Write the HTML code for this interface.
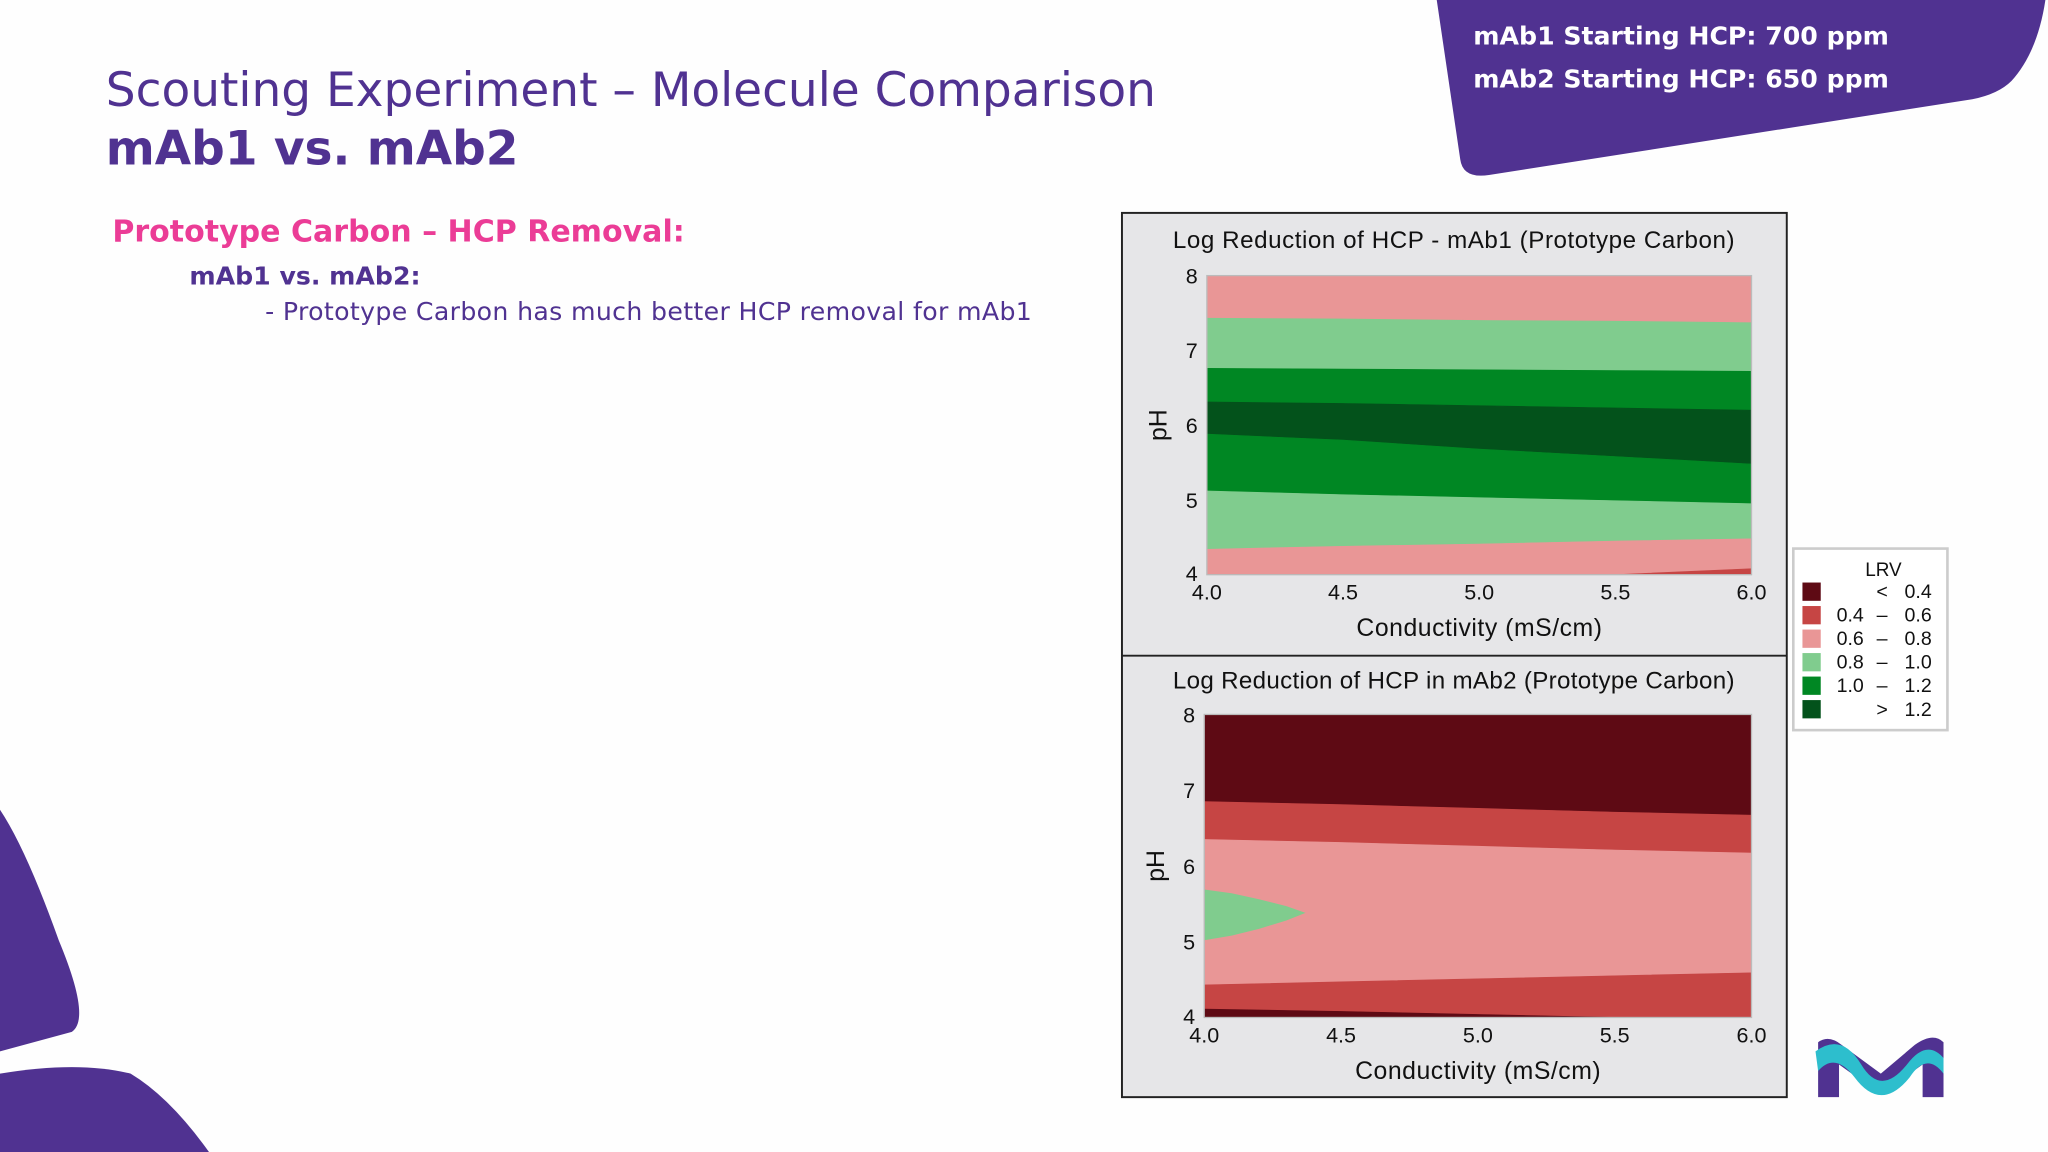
<!DOCTYPE html>
<html><head><meta charset="utf-8"><style>
html,body{margin:0;padding:0;background:#fff;width:2048px;height:1152px;overflow:hidden}
svg{display:block}
</style></head><body>
<svg id="page" width="2048" height="1152" viewBox="0 0 1568 882" xmlns="http://www.w3.org/2000/svg">
<rect width="1568" height="882" fill="#fefefe"/>
<path d="M1100,0 L1566,0 Q1560,40 1540,62 Q1530,72 1510,76 L1140,134 Q1120,137 1118,122 Z" fill="#503291"/>
<text x="1128" y="34" font-family="DejaVu Sans, sans-serif" font-weight="bold" font-size="19.3" fill="#fff">mAb1 Starting HCP: 700 ppm</text>
<text x="1128" y="67" font-family="DejaVu Sans, sans-serif" font-weight="bold" font-size="19.3" fill="#fff">mAb2 Starting HCP: 650 ppm</text>
<path d="M0,620 Q20,650 45,720 Q70,780 55,790 L0,805 Z" fill="#503291"/>
<path d="M0,822 Q60,812 100,822 Q130,840 160,882 L0,882 Z" fill="#503291"/>
<text x="81" y="81" font-family="DejaVu Sans, sans-serif" font-size="36" textLength="804" fill="#503291">Scouting Experiment – Molecule Comparison</text>
<text x="81" y="126" font-family="DejaVu Sans, sans-serif" font-weight="bold" font-size="36" fill="#503291">mAb1 vs. mAb2</text>
<text x="86" y="185" font-family="DejaVu Sans, sans-serif" font-weight="bold" font-size="23" fill="#eb3c96">Prototype Carbon – HCP Removal:</text>
<text x="145" y="218" font-family="DejaVu Sans, sans-serif" font-weight="bold" font-size="19.3" fill="#503291">mAb1 vs. mAb2:</text>
<text x="203" y="245" font-family="DejaVu Sans, sans-serif" font-size="19.3" textLength="587" fill="#503291">- Prototype Carbon has much better HCP removal for mAb1</text>
<g>
<path d="M1392,840 L1392,798 Q1400,792 1410,800 L1440,822 L1466,800 Q1480,790 1488,798 L1488,840 L1472,840 L1472,815 L1440,838 L1408,815 L1408,840 Z" fill="#503291"/>
<path d="M1390,805 Q1410,790 1425,815 Q1440,840 1460,815 Q1475,795 1488,810 L1488,822 Q1475,805 1462,825 Q1440,852 1420,825 Q1405,805 1392,820 Z" fill="#2dbecd"/>
</g>
<rect x="859" y="163" width="509" height="677" fill="#e6e6e8" stroke="#222" stroke-width="1.5"/>
<line x1="859" y1="502" x2="1368" y2="502" stroke="#222" stroke-width="1.5"/>
<g id="charts"></g>
<g id="legend"></g>
</svg>
<script>
const NS='http://www.w3.org/2000/svg';
const conductivity=[4.0,4.5,5.0,5.5,6.0];
const xTicks=['4.0','4.5','5.0','5.5','6.0'];
const yTicks=[4,5,6,7,8];
const levelColors=['#5e0a14','#c64544','#e99696','#80cc8e','#008723','#03521b'];
const levelLabels=[['','<','0.4'],['0.4','–','0.6'],['0.6','–','0.8'],['0.8','–','1.0'],['1.0','–','1.2'],['','>','1.2']];
const mab1Bounds=[
 [8,8,8,8,8],
 [7.43,7.42,7.40,7.39,7.37],
 [6.76,6.75,6.74,6.73,6.72],
 [6.31,6.29,6.26,6.23,6.20],
 [5.88,5.80,5.68,5.58,5.48],
 [5.12,5.07,5.03,4.99,4.95],
 [4.34,4.38,4.41,4.45,4.48],
 [4.0,4.0,4.0,4.0,4.08],
 [4,4,4,4,4]];
const mab1Levels=[2,3,4,5,4,3,2,1];
const mab2Bounds=[
 [8,8,8,8,8],
 [6.85,6.81,6.76,6.71,6.67],
 [6.35,6.31,6.26,6.21,6.17],
 [4.43,4.47,4.51,4.55,4.59],
 [4.11,4.08,4.04,4.0,4.0],
 [4,4,4,4,4]];
const mab2Levels=[0,1,2,1,0];
const blobCond=[4.0,4.1,4.2,4.3,4.37];
const blobUpper=[5.69,5.64,5.56,5.47,5.38];
const blobLower=[5.02,5.08,5.17,5.28,5.38];
const blobLevel=3;

function el(tag,attrs,parent,text){const e=document.createElementNS(NS,tag);for(const k in attrs)e.setAttribute(k,attrs[k]);if(text!==undefined)e.textContent=text;parent.appendChild(e);return e;}
const root=document.getElementById('charts');
const F='Liberation Sans, sans-serif';
function chart(name,title,px,py,pw,ph,titleY,bounds,levels,blob){
 const g=el('g',{},root);
 
 
 const sx=v=>px+(v-4)/2*pw, sy=v=>py+(8-v)/4*ph;
 for(let i=0;i<levels.length;i++){
  const up=bounds[i],lo=bounds[i+1];
  let pts=conductivity.map((c,j)=>sx(c)+','+sy(up[j]));
  pts=pts.concat(conductivity.map((c,j)=>sx(c)+','+sy(lo[j])).reverse());
  const p=el('polygon',{points:pts.join(' '),fill:levelColors[levels[i]],stroke:levelColors[levels[i]],'stroke-width':0.5},g);
  
  
 }
 if(blob){
  let pts=blobCond.map((c,j)=>sx(c)+','+sy(blobUpper[j]));
  pts=pts.concat(blobCond.map((c,j)=>sx(c)+','+sy(blobLower[j])).reverse());
  const p=el('polygon',{points:pts.join(' '),fill:levelColors[blobLevel]},g);
  
  
 }
 el('rect',{x:px,y:py,width:pw,height:ph,fill:'none',stroke:'#bbb','stroke-width':1},g);
 const t=el('text',{x:1113,y:titleY,'text-anchor':'middle','font-family':F,'font-size':18.5,textLength:430,fill:'#111'},g,title);
 
 
 yTicks.forEach(v=>{const tt=el('text',{x:px-7,y:sy(v)+(v===4?5:6),'text-anchor':'end','font-family':F,'font-size':16.5,fill:'#111'},g,String(v));
  
  });
 conductivity.forEach((c,i)=>{const tt=el('text',{x:sx(c),y:py+ph+19,'text-anchor':'middle','font-family':F,'font-size':16.5,fill:'#111'},g,xTicks[i]);
  
  });
 const xt=el('text',{x:px+pw/2,y:py+ph+47,'text-anchor':'middle','font-family':F,'font-size':19,textLength:188,fill:'#111'},g,'Conductivity (mS/cm)');
 
 
 const cy=py+ph/2;
 const yt=el('text',{x:0,y:0,transform:`translate(${px-31},${cy}) rotate(-90)`,'text-anchor':'middle','font-family':F,'font-size':19,fill:'#111'},g,'pH');
 
 
}
chart('mab1-contour-chart','Log Reduction of HCP - mAb1 (Prototype Carbon)',924,211,417,229,190,mab1Bounds,mab1Levels,false);
chart('mab2-contour-chart','Log Reduction of HCP in mAb2 (Prototype Carbon)',922,547,419,232,527,mab2Bounds,mab2Levels,true);

const lg=document.getElementById('legend');
el('rect',{x:1373,y:420,width:118,height:139,fill:'#fff',stroke:'#ccc','stroke-width':2},lg);
el('text',{x:1442,y:441,'text-anchor':'middle','font-family':F,'font-size':14.5,fill:'#111'},lg,'LRV');
levelLabels.forEach((lab,i)=>{
 const y=453+i*18;
 const r=el('rect',{x:1380,y:y-7,width:14,height:14,fill:levelColors[i]},lg);
 
 
 el('text',{x:1427,y:y+5,'text-anchor':'end','font-family':F,'font-size':15,fill:'#111'},lg,lab[0]);
 el('text',{x:1441,y:y+5,'text-anchor':'middle','font-family':F,'font-size':15,fill:'#111'},lg,lab[1]);
 el('text',{x:1479,y:y+5,'text-anchor':'end','font-family':F,'font-size':15,fill:'#111'},lg,lab[2]);
});
</script>
</body></html>
